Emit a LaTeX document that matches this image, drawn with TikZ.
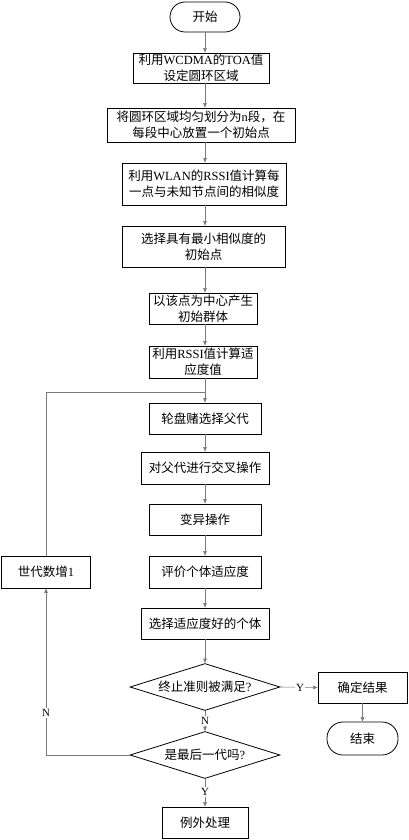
\documentclass[tikz,border=0pt]{standalone}
\usepackage{fontspec}
\setmainfont{Noto Sans CJK SC}
\newfontfamily\latf{Liberation Serif}
\usetikzlibrary{shapes.geometric,arrows.meta}
\definecolor{lngray}{HTML}{7A7A7A}
\begin{document}
\begin{tikzpicture}[x=1pt,y=-1pt,
  font=\fontsize{12.5}{16}\selectfont,
  box/.style={draw=black, line width=0.8pt, inner sep=0pt, align=center, fill=white},
  term/.style={box, rounded corners=15pt},
  dec/.style={draw=black, line width=0.8pt, diamond, aspect=3.2, inner sep=0pt, minimum width=150, minimum height=47, fill=white},
  ln/.style={draw=lngray, line width=0.6pt},
  arr/.style={ln, -{Triangle[length=4.5pt,width=3.5pt]}},
  lbl/.style={fill=white, inner sep=1pt, font=\fontsize{11}{12}\latf\selectfont}]
\useasboundingbox (0,0) rectangle (408,840);
\coordinate (col) at (205,0);

\node[term, minimum width=70, minimum height=30] (start) at (205,17) {开始};
\node[box, minimum width=136, minimum height=30] (b1) at (201,68) {利用{\latf WCDMA}的{\latf TOA}值\\设定圆环区域};
\node[box, minimum width=188, minimum height=34] (b2) at (201,125) {将圆环区域均匀划分为{\latf n}段，在\\每段中心放置一个初始点};
\node[box, minimum width=164, minimum height=42] (b3) at (204,184) {利用{\latf WLAN}的{\latf RSSI}值计算每\\一点与未知节点间的相似度};
\node[box, minimum width=163, minimum height=41] (b4) at (203.5,246.5) {选择具有最小相似度的\\初始点};
\node[box, minimum width=108, minimum height=31] (b5) at (203,308.5) {以该点为中心产生\\初始群体};
\node[box, minimum width=108, minimum height=32] (b6) at (203,362) {利用{\latf RSSI}值计算适\\应度值};
\node[box, minimum width=112, minimum height=31] (b7) at (205,418.5) {轮盘赌选择父代};
\node[box, minimum width=128, minimum height=32] (b8) at (205,468) {对父代进行交叉操作};
\node[box, minimum width=112, minimum height=31] (b9) at (205,519.5) {变异操作};
\node[box, minimum width=112, minimum height=32] (b10) at (205,572) {评价个体适应度};
\node[box, minimum width=128, minimum height=31] (b11) at (205,623.5) {选择适应度好的个体};
\node[dec] (d1) at (205,687) {终止准则被满足{\latf ?}};
\node[dec] (d2) at (205,755) {是最后一代吗{\latf ?}};
\node[box, minimum width=89, minimum height=32] (L) at (46,572) {世代数增{\latf 1}};
\node[box, minimum width=89, minimum height=31] (R) at (362.5,687.5) {确定结果};
\node[box, rounded corners=16pt, minimum width=71, minimum height=33] (fin) at (362.5,738.5) {结束};
\node[box, minimum width=86, minimum height=31] (ex) at (205,822.5) {例外处理};

\draw[arr] (col |- start.south) -- (col |- b1.north);
\draw[arr] (col |- b1.south) -- (col |- b2.north);
\draw[arr] (col |- b2.south) -- (col |- b3.north);
\draw[arr] (col |- b3.south) -- (col |- b4.north);
\draw[arr] (col |- b4.south) -- (col |- b5.north);
\draw[arr] (col |- b5.south) -- (col |- b6.north);
\draw[arr] (col |- b6.south) -- (col |- b7.north);
\draw[arr] (b7.south) -- (b8.north);
\draw[arr] (b8.south) -- (b9.north);
\draw[arr] (b9.south) -- (b10.north);
\draw[arr] (b10.south) -- (b11.north);
\draw[arr] (b11.south) -- (d1.north);

\coordinate (join) at (205,392);
\draw[ln] (L.north) |- (join);
\draw[arr] (d2.west) -| (L.south);
\node[lbl] (nl) at (46,713) {N};

\draw[arr] (d1.east) -- (R.west);
\node[lbl] (yr) at (300,687.5) {Y};
\draw[arr] (R.south) -- (fin.north);

\draw[arr] (d1.south) -- (d2.north);
\node[lbl] (nd) at (205,721) {N};
\draw[arr] (d2.south) -- (ex.north);
\node[lbl] (yd) at (205,792) {Y};
\end{tikzpicture}
\end{document}
